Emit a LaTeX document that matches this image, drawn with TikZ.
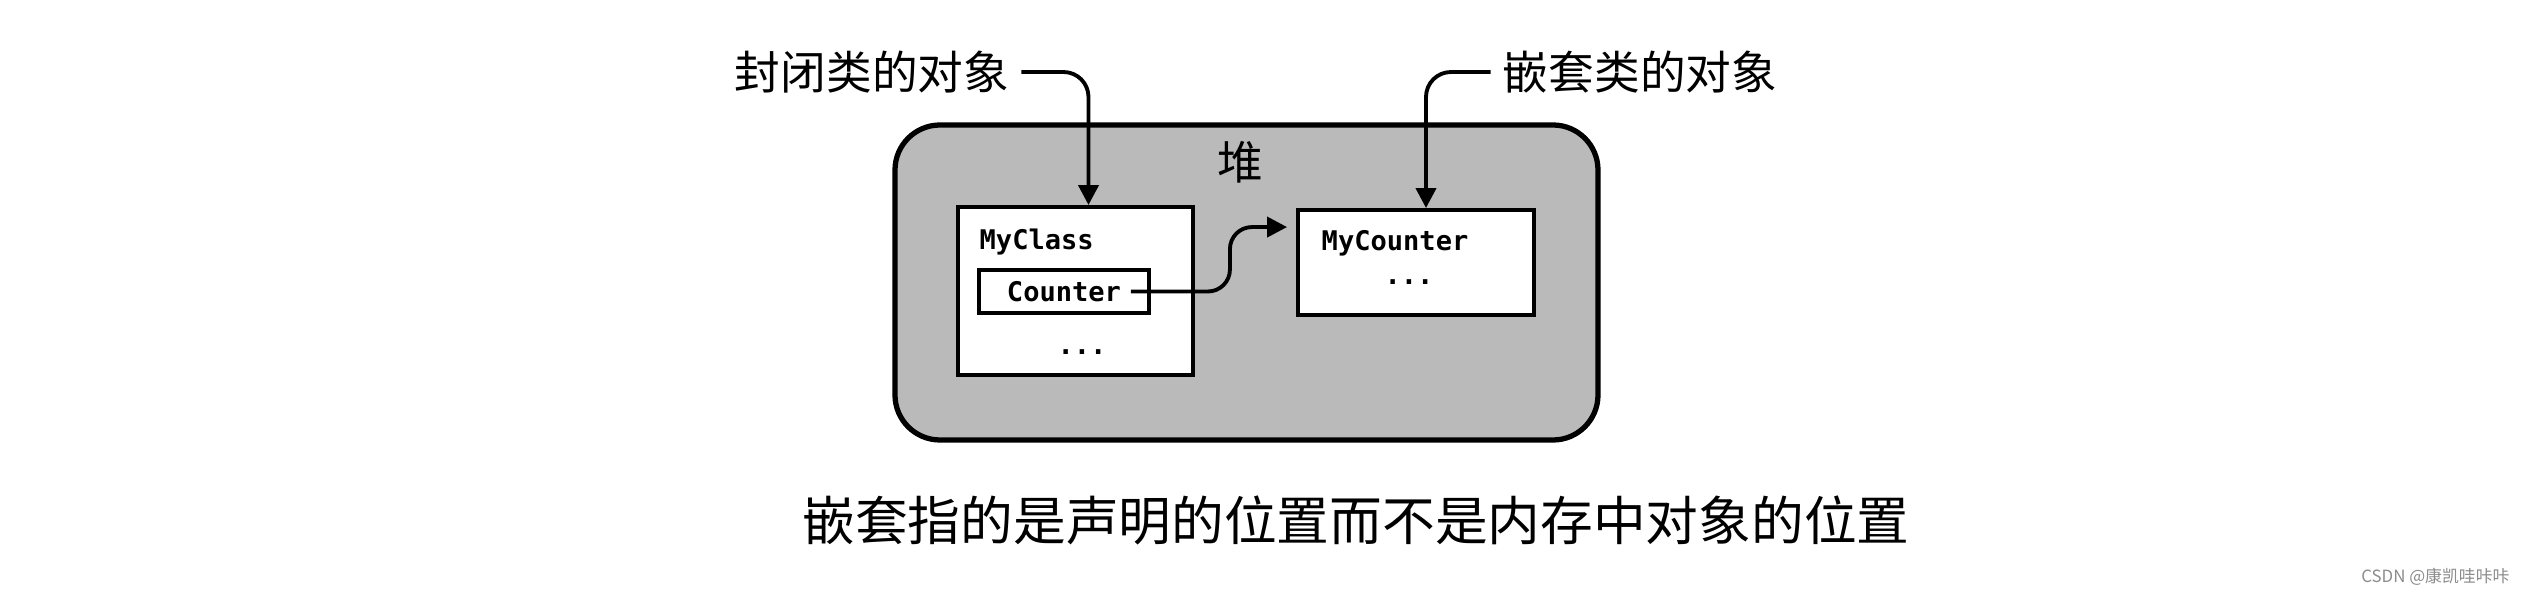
\documentclass[tikz,border=0pt]{standalone}
\usepackage{fontspec}
\usetikzlibrary{arrows.meta}
\newfontfamily\cjk{Noto Sans CJK SC}
\setmonofont{DejaVu Sans Mono}

\tikzset{
  box/.style={draw, line width=1.1pt, fill=white},
  link/.style={line width=1.1pt, -{Triangle[length=2mm,width=2mm]}, rounded corners=2.5mm},
  code/.style={font=\ttfamily\bfseries\fontsize{7.7}{9}\selectfont, inner sep=0pt},
  zh/.style={font=\cjk\fontsize{13}{15}\selectfont}
}

\begin{document}
\begin{tikzpicture}
\useasboundingbox (0,0) rectangle (25.36,-6.04);
\node[draw, line width=1.5pt, fill=black!27, rounded corners=4.5mm, minimum width=7.03cm, minimum height=3.15cm] (heap) at (12.465,-2.825) {};
\node[zh] (heaplab) at (12.40,-1.62) {堆};
\node[box, minimum width=2.35cm, minimum height=1.68cm] (myc) at (10.755,-2.91) {};
\node[code, anchor=west] (mycname) at (9.79,-2.42) {MyClass};
\node[box, code, minimum width=1.70cm, minimum height=0.43cm] (cnt) at (10.64,-2.915) {Counter};
\node[code] (mycdots) at (10.82,-3.52) {...};
\node[box, minimum width=2.36cm, minimum height=1.05cm] (mco) at (14.16,-2.625) {};
\node[code, anchor=west] (mconame) at (13.21,-2.43) {MyCounter};
\node[code] (mcodots) at (14.09,-2.82) {...};
\node[zh] (enc) at (8.72,-0.72) {封闭类的对象};
\node[zh] (nest) at (16.40,-0.72) {嵌套类的对象};
\draw[link] (enc.east) -| ([xshift=1.3mm]myc.north);
\draw[link] (nest.west) -| ([xshift=1mm]mco.north);
\draw[link, rounded corners=2.2mm] ([xshift=-2mm]cnt.east) -- ++(0.99,0) |- ([xshift=-0.9mm,yshift=-1.9mm]mco.north west);
\node[font=\cjk\fontsize{15}{18}\selectfont] (cap) at (13.56,-5.20) {嵌套指的是声明的位置而不是内存中对象的位置};
\node[anchor=east, text=black!45, font=\cjk\fontsize{4.8}{6}\selectfont] (wm) at (25.22,-5.77) {CSDN @康凯哇咔咔};
\end{tikzpicture}
\end{document}
